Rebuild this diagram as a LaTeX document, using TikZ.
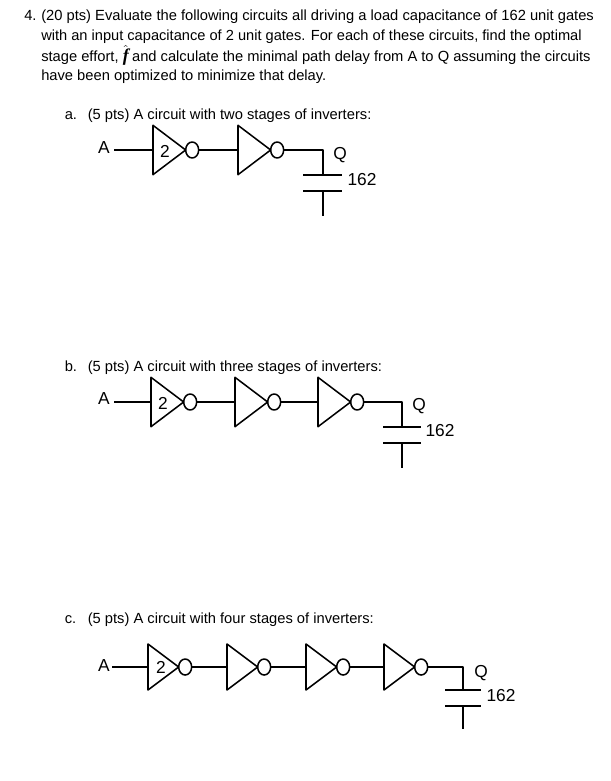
\documentclass[tikz,border=0pt]{standalone}
\usepackage{fontspec}
\setmainfont{Liberation Sans}
\newfontfamily\hatfont{Liberation Serif}
\usetikzlibrary{shapes.geometric,positioning}
\tikzset{
	txt/.style={anchor=base west,inner sep=0pt,font=\fontsize{11.03}{13}\selectfont},
	val/.style={inner sep=0pt,font=\fontsize{13}{15}\selectfont},
	invtri/.style={draw,isosceles triangle,isosceles triangle stretches,inner sep=0pt,outer sep=0pt,anchor=lower side,minimum height=24.5pt,minimum width=37pt},
	invtric/.style={invtri,minimum height=23pt,minimum width=34.5pt},
	bubble/.style={draw,ellipse,inner sep=0pt,outer sep=0pt,minimum width=9.75pt,minimum height=12pt,anchor=west},
}
\begin{document}
\begin{tikzpicture}[x=.75pt,y=-.75pt,line width=1.15pt,line join=round]
	\useasboundingbox (0,0) rectangle (610,781);
	% question text
	\node[txt] (n4) at (23.5,21) {4.};
	\node[txt] (l1) at (40.5,21) {(20 pts) Evaluate the following circuits all driving a load capacitance of 162 unit gates};
	\node[txt,font=\fontsize{10.97}{13}\selectfont] (l2) at (40.5,41) {with an input capacitance of 2 unit gates. For each of these circuits, find the optimal};
	\node[txt] (l3) at (40.5,62) {stage effort, $\hat{\mbox{\hatfont\fontsize{13.5}{14}\selectfont\bfseries\itshape f}}$\kern2.5pt and calculate the minimal path delay from A to Q assuming the circuits};
	\node[txt] (l4) at (40.5,81) {have been optimized to minimize that delay.};
	\node[txt] (la) at (64,120) {a.};
	\node[txt] (ta) at (87,120) {(5 pts) A circuit with two stages of inverters:};
	\node[txt] (lb) at (64,371) {b.};
	\node[txt] (tb) at (87,371) {(5 pts) A circuit with three stages of inverters:};
	\node[txt] (lc) at (64,623) {c.};
	\node[txt] (tc) at (87,623) {(5 pts) A circuit with four stages of inverters:};

	% circuit a
	\path (114,150) coordinate (ain)
	(323,150) coordinate (aq)
	(323,175) coordinate (ap1)
	(323,191) coordinate (ap2)
	(323,216) coordinate (agnd);
	\node[val] (aA) at (104,148) {A};
	\foreach \n/\xx in {1/153,2/238}{
		\node[invtri] (at\n) at (\xx,150) {};
		\node[bubble] (ab\n) at (at\n.apex) {};
	}
	\node[val] (a2) at (165,151) {2};
	\draw (ain)--(at1.lower side);
	\draw (ab1)--(at2.lower side);
	\draw (ab2)--(aq)--(ap1);
	\draw (ap1)+(-20,0)--+(19,0) (ap2)+(-20,0)--+(19,0);
	\draw (ap2)--(agnd);
	\node[val] (aQ) at (340,155) {Q};
	\node[val] (aC) at (362,180) {162};

	% circuit b
	\path (114,402) coordinate (bin)
	(402,402) coordinate (bq)
	(402,427) coordinate (bp1)
	(402,443) coordinate (bp2)
	(402,468) coordinate (bgnd);
	\node[val] (bA) at (104,399) {A};
	\foreach \n/\xx in {1/151,2/235,3/318}{
		\node[invtri] (bt\n) at (\xx,402) {};
		\node[bubble] (bb\n) at (bt\n.apex) {};
	}
	\node[val] (b2) at (163,403) {2};
	\draw (bin)--(bt1.lower side);
	\draw (bb1)--(bt2.lower side);
	\draw (bb2)--(bt3.lower side);
	\draw (bb3)--(bq)--(bp1);
	\draw (bp1)+(-19,0)--+(19,0) (bp2)+(-19,0)--+(19,0);
	\draw (bp2)--(bgnd);
	\node[val] (bQ) at (419,406) {Q};
	\node[val] (bC) at (440,431) {162};

	% circuit c
	\path (112,667) coordinate (cin)
	(463,667) coordinate (cq)
	(463,690) coordinate (cp1)
	(463,706) coordinate (cp2)
	(463,729) coordinate (cgnd);
	\node[val] (cA) at (104,666) {A};
	\foreach \n/\xx in {1/148,2/227,3/306,4/384}{
		\node[invtric] (ct\n) at (\xx,667) {};
		\node[bubble] (cb\n) at (ct\n.apex) {};
	}
	\node[val] (c2) at (161,667) {2};
	\draw (cin)--(ct1.lower side);
	\draw (cb1)--(ct2.lower side);
	\draw (cb2)--(ct3.lower side);
	\draw (cb3)--(ct4.lower side);
	\draw (cb4)--(cq)--(cp1);
	\draw (cp1)+(-18,0)--+(18,0) (cp2)+(-18,0)--+(18,0);
	\draw (cp2)--(cgnd);
	\node[val] (cQ) at (481,673) {Q};
	\node[val] (cC) at (501,696) {162};
\end{tikzpicture}
\end{document}
